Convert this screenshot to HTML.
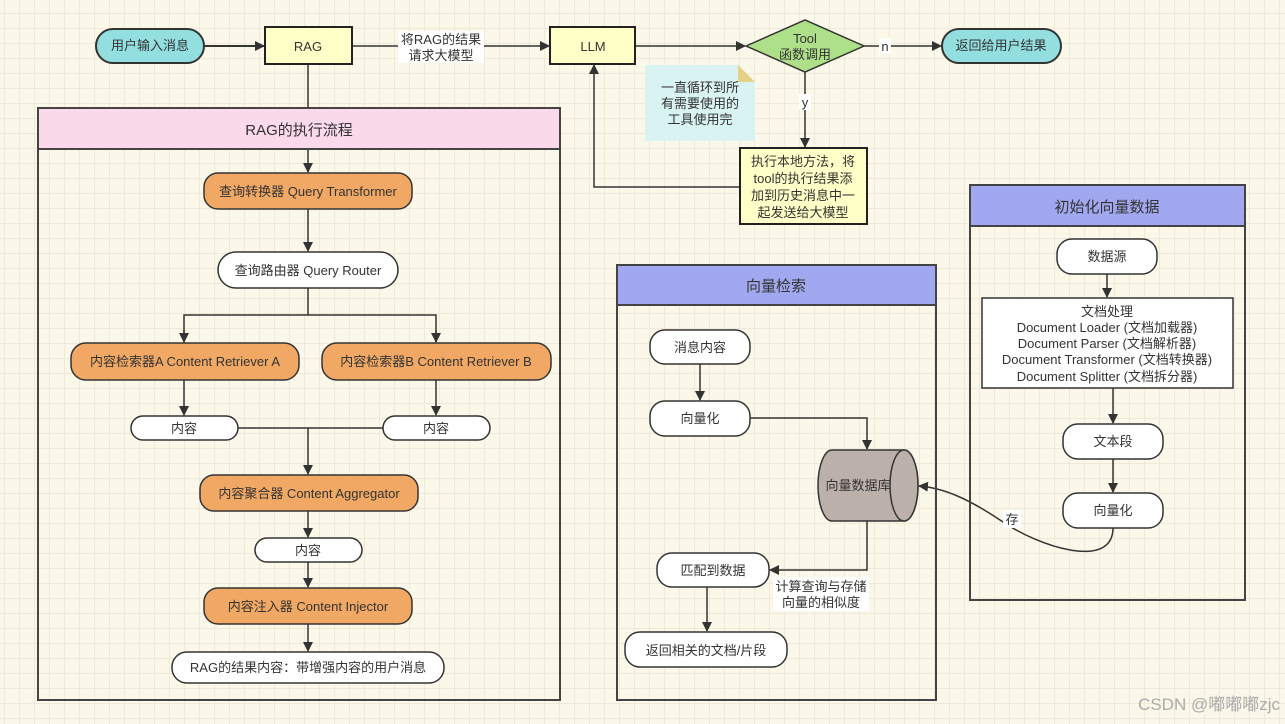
<!DOCTYPE html>
<html><head><meta charset="utf-8"><style>
html,body{margin:0;padding:0;}
body{width:1285px;height:724px;overflow:hidden;background-color:#fbf8ea;
background-image:linear-gradient(#eee9d8 1px,transparent 1px),linear-gradient(90deg,#eee9d8 1px,transparent 1px);
background-size:15px 15px;background-position:4px 13px;font-family:"Liberation Sans","Noto Sans CJK SC",sans-serif;}
svg{position:absolute;left:0;top:0;}
text{font-family:"Liberation Sans","Noto Sans CJK SC",sans-serif;font-size:13px;fill:#333;}
</style></head><body>
<svg width="1285" height="724" viewBox="0 0 1285 724">
<defs><marker id="a" markerWidth="10" markerHeight="10" refX="9" refY="5" orient="auto" markerUnits="userSpaceOnUse"><path d="M0,0 L10,5 L0,10 z" fill="#333"/></marker></defs>
<g stroke="#333" stroke-width="1.5" fill="none">
<line x1="204" y1="46" x2="264" y2="46" stroke-width="2" marker-end="url(#a)"/>
<line x1="352" y1="46" x2="549" y2="46" marker-end="url(#a)"/>
<line x1="635" y1="46" x2="745" y2="46" marker-end="url(#a)"/>
<line x1="864" y1="46" x2="941" y2="46" marker-end="url(#a)"/>
<line x1="805" y1="72" x2="805" y2="147" marker-end="url(#a)"/>
<polyline points="740,187 594,187 594,65" marker-end="url(#a)"/>
<line x1="308" y1="64" x2="308" y2="108"/>
<line x1="308" y1="149" x2="308" y2="172" marker-end="url(#a)"/>
<line x1="308" y1="209" x2="308" y2="251" marker-end="url(#a)"/>
<polyline points="308,288 308,315"/>
<polyline points="184,342 184,315 436,315 436,342" />
<line x1="184" y1="330" x2="184" y2="342" marker-end="url(#a)"/>
<line x1="436" y1="330" x2="436" y2="342" marker-end="url(#a)"/>
<line x1="184" y1="380" x2="184" y2="415" marker-end="url(#a)"/>
<line x1="436" y1="380" x2="436" y2="415" marker-end="url(#a)"/>
<path d="M238,428 L308,428 M383,428 L308,428"/>
<line x1="308" y1="428" x2="308" y2="474" marker-end="url(#a)"/>
<line x1="308" y1="511" x2="308" y2="537" marker-end="url(#a)"/>
<line x1="308" y1="562" x2="308" y2="587" marker-end="url(#a)"/>
<line x1="308" y1="624" x2="308" y2="651" marker-end="url(#a)"/>
<line x1="700" y1="364" x2="700" y2="400" marker-end="url(#a)"/>
<polyline points="750,418 867,418 867,449" marker-end="url(#a)"/>
<polyline points="867,521 867,570 770,570" marker-end="url(#a)"/>
<line x1="707" y1="587" x2="707" y2="631" marker-end="url(#a)"/>
<line x1="1107" y1="274" x2="1107" y2="297" marker-end="url(#a)"/>
<line x1="1113" y1="388" x2="1113" y2="423" marker-end="url(#a)"/>
<line x1="1113" y1="459" x2="1113" y2="492" marker-end="url(#a)"/>
<path d="M1113,528 C1113,570 1040,548 1000,520 C970,500 945,488 919,486" marker-end="url(#a)"/>
</g>
<!-- top nodes -->
<rect x="96" y="29" width="108" height="34" rx="17" fill="#93dfe0" stroke="#333" stroke-width="2"/>
<text x="150" y="50" text-anchor="middle">用户输入消息</text>
<rect x="265" y="27" width="87" height="37" fill="#ffffc8" stroke="#222" stroke-width="2"/>
<text x="308" y="51" text-anchor="middle">RAG</text>
<rect x="398" y="31" width="86" height="32" fill="#fff"/>
<text x="441" y="44" text-anchor="middle">将RAG的结果</text>
<text x="441" y="60" text-anchor="middle">请求大模型</text>
<rect x="550" y="27" width="85" height="37" fill="#ffffc8" stroke="#222" stroke-width="2"/>
<text x="593" y="51" text-anchor="middle">LLM</text>
<polygon points="746,46 805,20 864,46 805,72" fill="#ade088" stroke="#333" stroke-width="1.5"/>
<text x="805" y="43" text-anchor="middle">Tool</text>
<text x="805" y="59" text-anchor="middle">函数调用</text>
<rect x="879" y="38" width="12" height="16" fill="#fff"/>
<text x="885" y="51" text-anchor="middle">n</text>
<rect x="942" y="29" width="119" height="34" rx="17" fill="#93dfe0" stroke="#333" stroke-width="2"/>
<text x="1001" y="50" text-anchor="middle">返回给用户结果</text>
<rect x="799" y="94" width="12" height="16" fill="#fff"/>
<text x="805" y="107" text-anchor="middle">y</text>
<polygon points="645,65 738,65 755,82 755,141 645,141" fill="#d9f2f2"/>
<polygon points="738,65 755,82 738,82" fill="#e6cf86"/>
<text x="700" y="92" text-anchor="middle">一直循环到所</text>
<text x="700" y="108" text-anchor="middle">有需要使用的</text>
<text x="700" y="124" text-anchor="middle">工具使用完</text>
<rect x="740" y="148" width="127" height="76" fill="#ffffc8" stroke="#222" stroke-width="2"/>
<text x="803" y="166" text-anchor="middle">执行本地方法，将</text>
<text x="803" y="183" text-anchor="middle">tool的执行结果添</text>
<text x="803" y="200" text-anchor="middle">加到历史消息中一</text>
<text x="803" y="217" text-anchor="middle">起发送给大模型</text>
<!-- RAG container -->
<rect x="38" y="108" width="522" height="592" fill="none" stroke="#444" stroke-width="2"/>
<rect x="38" y="108" width="522" height="41" fill="#f9d9ea" stroke="#444" stroke-width="2"/>
<text x="299" y="135" text-anchor="middle" style="font-size:15px">RAG的执行流程</text>
<g stroke="#333" stroke-width="1.5">
<rect x="204" y="173" width="208" height="36" rx="14" fill="#f0a864"/>
<rect x="218" y="252" width="180" height="36" rx="18" fill="#fff"/>
<rect x="71" y="343" width="228" height="37" rx="15" fill="#f0a864"/>
<rect x="322" y="343" width="229" height="37" rx="15" fill="#f0a864"/>
<rect x="131" y="416" width="107" height="24" rx="12" fill="#fff"/>
<rect x="383" y="416" width="107" height="24" rx="12" fill="#fff"/>
<rect x="200" y="475" width="218" height="36" rx="14" fill="#f0a864"/>
<rect x="255" y="538" width="107" height="24" rx="12" fill="#fff"/>
<rect x="204" y="588" width="208" height="36" rx="14" fill="#f0a864"/>
<rect x="172" y="652" width="272" height="31" rx="15" fill="#fff"/>
</g>
<text x="308" y="196" text-anchor="middle">查询转换器 Query Transformer</text>
<text x="308" y="275" text-anchor="middle">查询路由器 Query Router</text>
<text x="185" y="366" text-anchor="middle">内容检索器A Content Retriever A</text>
<text x="436" y="366" text-anchor="middle">内容检索器B Content Retriever B</text>
<text x="184" y="433" text-anchor="middle">内容</text>
<text x="436" y="433" text-anchor="middle">内容</text>
<text x="309" y="498" text-anchor="middle">内容聚合器 Content Aggregator</text>
<text x="308" y="555" text-anchor="middle">内容</text>
<text x="308" y="611" text-anchor="middle">内容注入器 Content Injector</text>
<text x="308" y="672" text-anchor="middle">RAG的结果内容：带增强内容的用户消息</text>
<!-- vector search -->
<rect x="617" y="265" width="319" height="435" fill="none" stroke="#444" stroke-width="2"/>
<rect x="617" y="265" width="319" height="40" fill="#a2a8f0" stroke="#444" stroke-width="2"/>
<text x="776" y="291" text-anchor="middle" style="font-size:15px">向量检索</text>
<g stroke="#333" stroke-width="1.5" fill="#fff">
<rect x="650" y="330" width="100" height="34" rx="15"/>
<rect x="650" y="401" width="100" height="35" rx="15"/>
<rect x="657" y="553" width="112" height="34" rx="15"/>
<rect x="625" y="632" width="162" height="35" rx="15"/>
<path d="M832,450 L904,450 A14,35.5 0 0 1 904,521 L832,521 A14,35.5 0 0 1 832,450 z" fill="#bcb0ab"/>
<ellipse cx="904" cy="485.5" rx="14" ry="35.5" fill="#bcb0ab"/>
</g>
<text x="700" y="352" text-anchor="middle">消息内容</text>
<text x="700" y="423" text-anchor="middle">向量化</text>
<text x="858" y="490" text-anchor="middle">向量数据库</text>
<text x="713" y="575" text-anchor="middle">匹配到数据</text>
<text x="706" y="655" text-anchor="middle">返回相关的文档/片段</text>
<rect x="773" y="577" width="96" height="34" fill="#fff"/>
<text x="821" y="591" text-anchor="middle">计算查询与存储</text>
<text x="821" y="607" text-anchor="middle">向量的相似度</text>
<!-- init -->
<rect x="970" y="185" width="275" height="415" fill="none" stroke="#444" stroke-width="2"/>
<rect x="970" y="185" width="275" height="41" fill="#a2a8f0" stroke="#444" stroke-width="2"/>
<text x="1107" y="212" text-anchor="middle" style="font-size:15px">初始化向量数据</text>
<g stroke="#333" stroke-width="1.5" fill="#fff">
<rect x="1057" y="239" width="100" height="35" rx="15"/>
<rect x="982" y="298" width="251" height="90"/>
<rect x="1063" y="424" width="100" height="35" rx="15"/>
<rect x="1063" y="493" width="100" height="35" rx="15"/>
</g>
<text x="1107" y="261" text-anchor="middle">数据源</text>
<text x="1107" y="316" text-anchor="middle">文档处理</text>
<text x="1107" y="332" text-anchor="middle">Document Loader (文档加载器)</text>
<text x="1107" y="348" text-anchor="middle">Document Parser (文档解析器)</text>
<text x="1107" y="364" text-anchor="middle">Document Transformer (文档转换器)</text>
<text x="1107" y="381" text-anchor="middle">Document Splitter (文档拆分器)</text>
<text x="1113" y="446" text-anchor="middle">文本段</text>
<text x="1113" y="515" text-anchor="middle">向量化</text>
<rect x="1003" y="510" width="18" height="18" fill="#fff"/>
<text x="1012" y="524" text-anchor="middle">存</text>
<text x="1280" y="710" text-anchor="end" style="font-size:17px;fill:#aaa">CSDN @嘟嘟嘟zjc</text>
</svg>
</body></html>
